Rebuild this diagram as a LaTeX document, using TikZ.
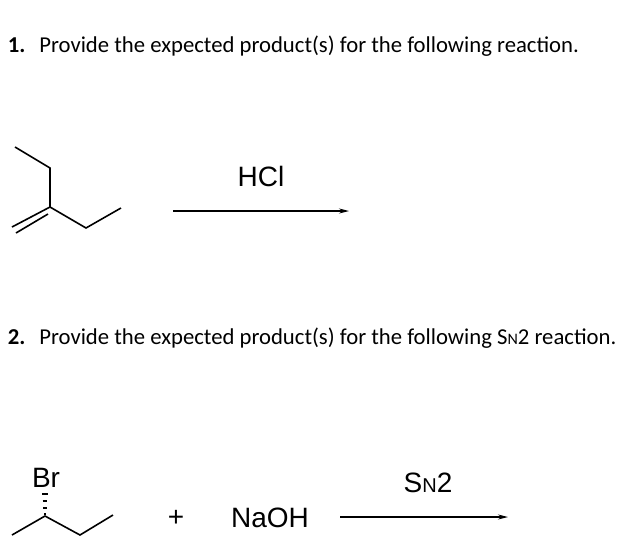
\documentclass[tikz,border=0pt]{standalone}
\usepackage{fontspec}
\usetikzlibrary{arrows.meta}
\setmainfont{Carlito}
\newfontfamily\arial{Liberation Sans}
\begin{document}
\begin{tikzpicture}[x=1pt,y=-1pt,line width=1.6pt,
  q/.style={anchor=west,inner sep=0pt,font=\fontsize{22.7}{26}\selectfont},
  ar/.style={inner sep=0pt,font=\arial\fontsize{28}{32}\selectfont},
  rx/.style={line width=1.3pt,-{Stealth[length=10pt,width=5pt]}}]
\useasboundingbox (0,0) rectangle (617,541);
\node[q] (t1) at (7,46) {\textbf{1.}\hspace{14pt}Provide the expected product(s) for the following reaction.};
\node[q] (t2) at (7,338) {\textbf{2.}\hspace{14pt}Provide the expected product(s) for the following S{\fontsize{16}{18}\selectfont N}2 reaction.};
% molecule 1
\coordinate (a1) at (15,147); \coordinate (a2) at (50,168); \coordinate (a3) at (50,207);
\coordinate (a4) at (86,228); \coordinate (a5) at (121,208);
\draw (a1)--(a2)--(a3)--(a4)--(a5);
\draw (a3)--(12,227);
\draw (48,214)--(16,233);
\coordinate (s1) at (173,211); \coordinate (e1) at (349,211);
\draw[rx] (s1)--(e1);
\node[ar] (hcl) at (261,176) {HCl};
% molecule 2
\node[ar] (br) at (46,478) {Br};
\coordinate (b1) at (12,535); \coordinate (b2) at (45,516); \coordinate (b3) at (80,535); \coordinate (b4) at (113,515);
\draw (b1)--(b2)--(b3)--(b4);
\foreach \yy/\w in {494/3,501/2.3,508/1.6,514/1} \draw[line width=1.6pt] (45-\w,\yy)--(45+\w,\yy);
\node[ar] (plus) at (176,518) {+};
\node[ar] (naoh) at (270,518) {NaOH};
\coordinate (s2) at (340,517); \coordinate (e2) at (508,517);
\draw[rx] (s2)--(e2);
\node[ar] (sn2) at (428,483) {S{\fontsize{20}{22}\selectfont N}2};
\end{tikzpicture}
\end{document}
